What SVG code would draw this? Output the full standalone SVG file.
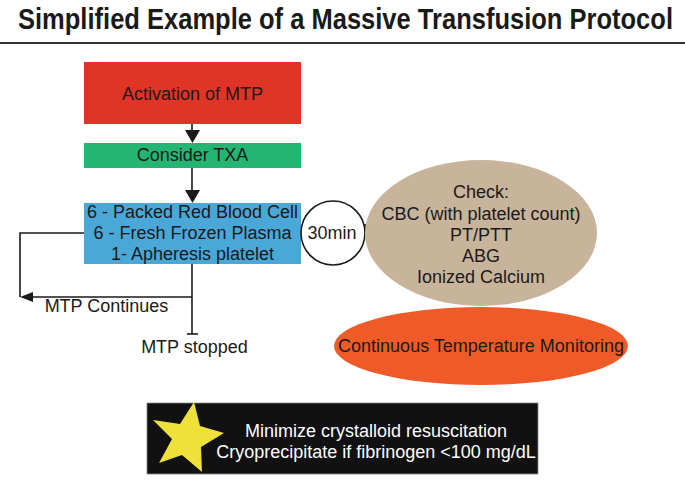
<svg xmlns="http://www.w3.org/2000/svg" width="685" height="486" viewBox="0 0 685 486">
<style>
text{font-family:"Liberation Sans",Arial,sans-serif;font-size:18px;fill:#1a1a1a;text-anchor:middle}
.ln{stroke:#1a1a1a;stroke-width:1.6;fill:none}
.ah{fill:#1a1a1a}
.w{fill:#ffffff}
</style>
<rect width="685" height="486" fill="#ffffff"/>
<g id="title" transform="translate(18,28.5) scale(1,1.28)">
<text x="0" y="0" style="font-size:22.5px;font-weight:bold;text-anchor:start" textLength="655" lengthAdjust="spacingAndGlyphs">Simplified Example of a Massive Transfusion Protocol</text>
</g>
<line x1="0" y1="43" x2="685" y2="43" stroke="#333" stroke-width="2"/>
<g id="connectors">
<line class="ln" x1="192" y1="124" x2="192" y2="132"/>
<polygon class="ah" points="185,130 200,130 192.5,143"/>
<line class="ln" x1="192" y1="168" x2="192" y2="192"/>
<polygon class="ah" points="185,190 200,190 192.5,203"/>
<polyline class="ln" points="84,233 20,233 20,297"/>
<line class="ln" x1="192" y1="264" x2="192" y2="334"/>
<line class="ln" x1="192" y1="297" x2="28" y2="297"/>
<polygon class="ah" points="20,297 33,292 33,302"/>
<line class="ln" x1="187" y1="334" x2="198" y2="334" stroke-width="2"/>
<polygon class="ah" points="360,225 373,223 366,234"/>
</g>
<g id="activation">
<rect x="84" y="62" width="217" height="62" fill="#e03426"/>
<text x="192.5" y="100">Activation of MTP</text>
</g>
<g id="txa">
<rect x="84" y="143" width="217" height="25" fill="#25b573"/>
<text x="192.5" y="161">Consider TXA</text>
</g>
<g id="blood">
<rect x="84" y="203" width="217" height="61" fill="#4aa8d8"/>
<text x="192.5" y="218">6 - Packed Red Blood Cell</text>
<text x="192.5" y="239">6 - Fresh Frozen Plasma</text>
<text x="192.5" y="260">1- Apheresis platelet</text>
</g>
<g id="continues">
<text x="106.5" y="312">MTP Continues</text>
</g>
<g id="stopped">
<text x="194.5" y="353">MTP stopped</text>
</g>
<g id="timer">
<circle cx="333" cy="233" r="32" fill="#ffffff" stroke="#1a1a1a" stroke-width="1.6"/>
<text x="332" y="239">30min</text>
</g>
<g id="check">
<ellipse cx="481" cy="233" rx="116" ry="73" fill="#c8b49b"/>
<text x="481" y="198">Check:</text>
<text x="481" y="220">CBC (with platelet count)</text>
<text x="481" y="241">PT/PTT</text>
<text x="481" y="262">ABG</text>
<text x="481" y="283">Ionized Calcium</text>
</g>
<g id="temperature">
<ellipse cx="481" cy="346" rx="147" ry="39" fill="#ee5a28"/>
<text x="481" y="352">Continuous Temperature Monitoring</text>
</g>
<g id="note">
<rect x="147" y="403" width="391" height="71" fill="#111111" stroke="#888" stroke-width="0.8"/>
<polygon points="194,402 200,426 224,433 201,447 202,472 182,455 159,463 172,439 153,420 180,424" fill="#efe13a"/>
<text class="w" x="376" y="437">Minimize crystalloid resuscitation</text>
<text class="w" x="376" y="458">Cryoprecipitate if fibrinogen &lt;100 mg/dL</text>
</g>
</svg>
